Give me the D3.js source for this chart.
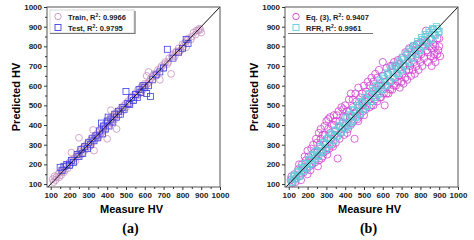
<!DOCTYPE html>
<html>
<head>
<meta charset="utf-8">
<script src="https://cdn.jsdelivr.net/npm/d3@7"></script>
<style>
body { margin: 0; background: #fff; }
text { font-family: "Liberation Sans", Arial, sans-serif; }
</style>
</head>
<body>
<div class="chart"></div>
<script>
var svgWidth = 474;
var svgHeight = 240;

var ticks = [100, 200, 300, 400, 500, 600, 700, 800, 900, 1000];
var minorTicks = [150, 250, 350, 450, 550, 650, 750, 850, 950];

// panel (a): [measured, predicted]
var trainPts = [[110,125],[120,140],[130,135],[140,150],[150,160],[155,145],[165,175],[175,170],[185,195],[190,180],
  [200,210],[205,200],[210,260],[215,225],[225,230],[230,215],[240,250],[245,240],[250,335],[255,265],[260,250],
  [265,280],[270,260],[280,290],[285,275],[290,300],[300,310],[305,290],[310,320],[315,300],[320,335],[325,375],
  [330,270],[335,345],[340,330],[350,360],[355,340],[360,375],[365,355],[370,385],[375,365],[380,390],[385,400],
  [390,375],[395,410],[400,330],[405,420],[410,400],[415,435],[420,475],[425,420],[430,445],[440,430],[445,460],
  [450,380],[455,465],[460,450],[470,480],[480,470],[490,500],[500,490],[510,520],[520,510],[525,535],[530,545],
  [540,530],[550,560],[560,550],[565,580],[575,570],[585,595],[590,580],[600,610],[605,600],[610,650],[620,670],
  [625,620],[640,645],[650,660],[660,650],[670,680],[680,630],[690,700],[700,690],[710,720],[720,710],[730,740],
  [740,660],[750,760],[760,750],[770,775],[780,790],[790,780],[800,810],[815,820],[820,795],[830,840],[845,835],
  [860,870],[870,860],[885,880],[895,885],[900,870],
  [115,110],[125,120],[145,135],[160,165],[170,160],[180,190],[195,205],[220,215],[235,240],[250,255],[275,285],
  [295,290],[320,315],[345,350],[360,350],[380,375],[400,410],[420,410],[435,440],[450,455],[465,470],[485,490],
  [500,510],[515,505],[535,540],[555,555],[570,560],[580,590],[595,600],[615,610],[630,635],[645,650],[665,660],
  [685,690],[705,710],[725,720],[745,750],[765,770],[785,775],[805,800],[825,830],[850,850],[875,880],[890,890]];
var testPts = [[150,185],[160,170],[170,190],[185,200],[200,195],[210,220],[220,210],[240,250],[250,240],[260,275],
  [270,255],[280,290],[295,280],[300,310],[310,300],[320,330],[330,320],[340,345],[350,335],[360,370],[370,410],
  [375,355],[380,395],[390,380],[400,420],[405,440],[410,395],[420,430],[430,415],[440,455],[450,440],[460,470],
  [470,455],[480,490],[490,480],[500,570],[510,510],[520,505],[530,540],[540,525],[550,555],[560,540],[570,580],
  [580,565],[590,600],[600,590],[610,560],[620,600],[630,545],[640,630],[660,655],[680,670],[700,690],[720,785],
  [750,740],[780,770],[800,790],[820,835],[830,815]];

// panel (b)
var eqPts = [[110,120],[120,105],[130,150],[140,130],[150,175],[160,140],[170,200],[180,160],[190,220],[195,175],
  [200,150],[205,240],[210,190],[220,280],[225,200],[230,300],[240,210],[245,330],[250,260],[255,190],[260,360],
  [265,300],[270,380],[275,230],[280,350],[285,260],[290,395],[295,300],[300,420],[305,250],[310,380],[315,280],
  [320,440],[325,330],[330,400],[335,290],[340,450],[345,350],[350,420],[360,230],[365,470],[370,330],[380,490],
  [385,380],[390,440],[395,350],[400,500],[405,400],[410,470],[415,380],[420,530],[425,440],[430,560],[435,410],
  [440,490],[445,420],[450,330],[455,560],[460,470],[465,430],[470,590],[475,500],[480,450],[490,560],[495,470],
  [500,600],[505,520],[510,480],[520,620],[525,530],[530,490],[540,640],[545,560],[550,500],[560,660],[565,580],
  [570,520],[580,680],[585,540],[590,600],[600,720],[605,560],[610,500],[620,690],[625,600],[630,560],[640,700],
  [645,620],[650,580],[660,720],[665,640],[670,600],[680,730],[685,650],[690,590],[700,740],[705,660],[710,610],
  [720,770],[725,680],[730,630],[740,790],[745,700],[750,650],[760,800],[765,720],[770,660],[780,810],[785,740],
  [790,680],[800,820],[805,760],[810,700],[820,830],[830,880],[835,780],[840,720],[850,800],[855,750],[860,700],
  [870,810],[875,760],[880,720],[890,840],[895,780],[900,800],[905,750],
  [115,140],[135,110],[155,200],[165,120],[185,240],[200,270],[215,170],[235,260],[250,310],[260,220],[270,330],
  [280,240],[290,350],[300,270],[310,430],[320,360],[330,300],[340,400],[350,310],[355,450],[370,420],[375,360],
  [390,480],[400,440],[410,360],[420,470],[430,400],[440,530],[450,460],[460,520],[470,420],[480,540],[490,500],
  [500,450],[510,570],[520,540],[530,600],[540,500],[550,620],[560,530],[570,640],[580,600],[590,540],[600,650],
  [610,620],[620,560],[630,660],[640,580],[650,700],[660,600],[670,700],[680,620],[690,710],[700,620],[710,700],
  [720,640],[730,760],[740,680],[750,740],[760,680],[770,780],[780,700],[790,760],[800,720],[810,800],[820,740],
  [830,820],[840,770],[850,840],[860,790],[870,740],[880,800],[890,760],[900,840]];
var rfrPts = [[110,125],[120,110],[130,145],[140,130],[150,165],[160,145],[170,185],[180,170],[190,205],[200,185],
  [210,225],[220,205],[230,250],[240,230],[250,270],[260,245],[270,290],[280,265],[290,310],[300,285],[310,335],
  [320,305],[330,350],[340,320],[350,370],[360,345],[370,395],[380,365],[390,410],[400,385],[410,435],[420,400],
  [430,450],[440,420],[450,475],[460,440],[470,490],[480,460],[490,515],[500,480],[510,530],[520,500],[530,555],
  [540,520],[550,575],[560,540],[570,595],[580,560],[590,615],[600,580],[610,635],[620,600],[630,655],[640,620],
  [650,675],[660,640],[670,695],[680,660],[690,715],[700,680],[710,735],[720,700],[730,755],[740,720],[750,775],
  [760,740],[770,795],[780,760],[790,815],[800,780],[810,835],[820,800],[830,850],[840,815],[850,870],[860,835],
  [870,885],[880,855],[890,890],[900,875],
  [115,110],[125,140],[135,125],[145,160],[155,140],[165,180],[175,165],[185,205],[195,180],[205,220],[215,200],
  [225,245],[235,220],[245,265],[255,240],[265,290],[275,260],[285,310],[295,275],[305,330],[315,300],[325,355],
  [335,320],[345,375],[355,340],[365,395],[375,360],[385,415],[395,380],[405,440],[415,395],[425,455],[435,415],
  [445,480],[455,440],[465,500],[475,455],[485,520],[495,480],[505,540],[515,495],[525,560],[535,520],[545,585],
  [555,540],[565,600],[575,555],[585,625],[595,580],[605,645],[615,600],[625,665],[635,620],[645,685],[655,640],
  [665,705],[675,660],[685,725],[695,680],[705,745],[715,700],[725,765],[735,720],[745,785],[755,740],[765,805],
  [775,760],[785,825],[795,780],[805,845],[815,800],[825,860],[835,820],[845,880],[855,840],[865,890],[875,860],
  [885,900],[895,870]];

var panels = [
  {x0: 47, label: "(a)", s1: trainPts, s2: testPts,
   n1: "Train, R", v1: ": 0.9966", n2: "Test, R", v2: ": 0.9795",
   c1: "#c890c0", c2: "#4040e4", r1: 3.4, box: true},
  {x0: 285, label: "(b)", s1: eqPts, s2: rfrPts,
   n1: "Eq. (3), R", v1: ": 0.9407", n2: "RFR, R", v2: ": 0.9961",
   c1: "#d040d0", c2: "#62ccd8", r1: 3.6, box: false}
];

var plotW = 173, plotH = 180, plotTop = 7;

var svg = d3.select(".chart").append("svg")
  .attr("width", svgWidth).attr("height", svgHeight);

panels.forEach(function(p) {
  var g = svg.append("g").attr("transform", `translate(${p.x0}, ${plotTop})`);
  var x = d3.scaleLinear().domain([80, 1000]).range([0, plotW]);
  var y = d3.scaleLinear().domain([85, 1000]).range([plotH, 0]);

  g.selectAll("circle.pt").data(p.s1).enter().append("circle")
    .attr("class", "pt")
    .attr("cx", function(d) { return x(d[0]); })
    .attr("cy", function(d) { return y(d[1]); })
    .attr("r", p.r1)
    .attr("fill", "none").attr("stroke", p.c1).attr("stroke-width", 0.8);

  g.selectAll("rect.pt").data(p.s2).enter().append("rect")
    .attr("class", "pt")
    .attr("x", function(d) { return x(d[0]) - 3; })
    .attr("y", function(d) { return y(d[1]) - 3; })
    .attr("width", 6).attr("height", 6)
    .attr("fill", "none").attr("stroke", p.c2).attr("stroke-width", 0.8);

  // y = x line
  g.append("line")
    .attr("x1", x(85)).attr("y1", y(85))
    .attr("x2", x(1000)).attr("y2", y(1000))
    .attr("stroke", "#111").attr("stroke-width", 1);

  // frame
  g.append("rect").attr("width", plotW).attr("height", plotH)
    .attr("fill", "none").attr("stroke", "#555").attr("stroke-width", 1);

  g.append("g").attr("transform", `translate(0, ${plotH})`)
    .call(d3.axisBottom(x).tickValues(ticks).tickSize(3).tickPadding(2).tickFormat(d3.format("d")));
  g.append("g").attr("transform", `translate(0, ${plotH})`)
    .call(d3.axisBottom(x).tickValues(minorTicks).tickSize(2).tickFormat(""));
  g.append("g")
    .call(d3.axisLeft(y).tickValues(ticks).tickSize(3).tickPadding(2).tickFormat(d3.format("d")));
  g.append("g")
    .call(d3.axisLeft(y).tickValues(minorTicks).tickSize(2).tickFormat(""));
  g.selectAll(".domain").remove();
  g.selectAll(".tick line").attr("stroke", "#333");
  g.selectAll(".tick text")
    .attr("font-family", "Liberation Sans, Arial, sans-serif")
    .attr("font-size", 8).attr("font-weight", "bold").attr("fill", "#222");

  // axis titles
  g.append("text")
    .attr("x", plotW / 2 - 2).attr("y", plotH + 26)
    .attr("text-anchor", "middle").attr("font-size", 11).attr("font-weight", "bold")
    .text("Measure HV");
  g.append("text")
    .attr("transform", "rotate(-90)")
    .attr("x", -plotH / 2).attr("y", -27)
    .attr("text-anchor", "middle").attr("font-size", 11).attr("font-weight", "bold")
    .text("Predicted HV");
  g.append("text")
    .attr("x", plotW / 2 - 3).attr("y", plotH + 46)
    .attr("text-anchor", "middle").attr("font-size", 14).attr("font-weight", "bold")
    .style("font-family", "Liberation Serif, Times New Roman, serif")
    .text(p.label);

  // legend
  var lg = g.append("g").attr("transform", "translate(3, 3)");
  if (p.box) {
    lg.append("rect").attr("width", 84).attr("height", 23)
      .attr("fill", "#fff").attr("stroke", "#ccc").attr("stroke-width", 0.8);
  }
  lg.append("line").attr("x1", 0).attr("x2", 85).attr("y1", 23.5).attr("y2", 23.5)
    .attr("stroke", "#777").attr("stroke-width", 1.2);
  if (p.box) {
    lg.append("line").attr("x1", 85).attr("x2", 85).attr("y1", 1).attr("y2", 24)
      .attr("stroke", "#777").attr("stroke-width", 1.2);
  }
  lg.append("circle").attr("cx", 8).attr("cy", 6.5).attr("r", 3.2)
    .attr("fill", "none").attr("stroke", p.c1).attr("stroke-width", 0.9);
  lg.append("rect").attr("x", 5).attr("y", 14.5).attr("width", 6).attr("height", 6)
    .attr("fill", "none").attr("stroke", p.c2).attr("stroke-width", 0.9);
  [[p.n1, p.v1, 9.5], [p.n2, p.v2, 20.5]].forEach(function(t) {
    var tx = lg.append("text").attr("x", 18).attr("y", t[2])
      .attr("font-size", 7.5).attr("font-weight", "bold").attr("fill", "#222");
    tx.append("tspan").text(t[0]);
    tx.append("tspan").attr("font-size", 5).attr("dy", -3).text("2");
    tx.append("tspan").attr("dy", 3).text(t[1]);
  });
});
</script>
</body>
</html>
